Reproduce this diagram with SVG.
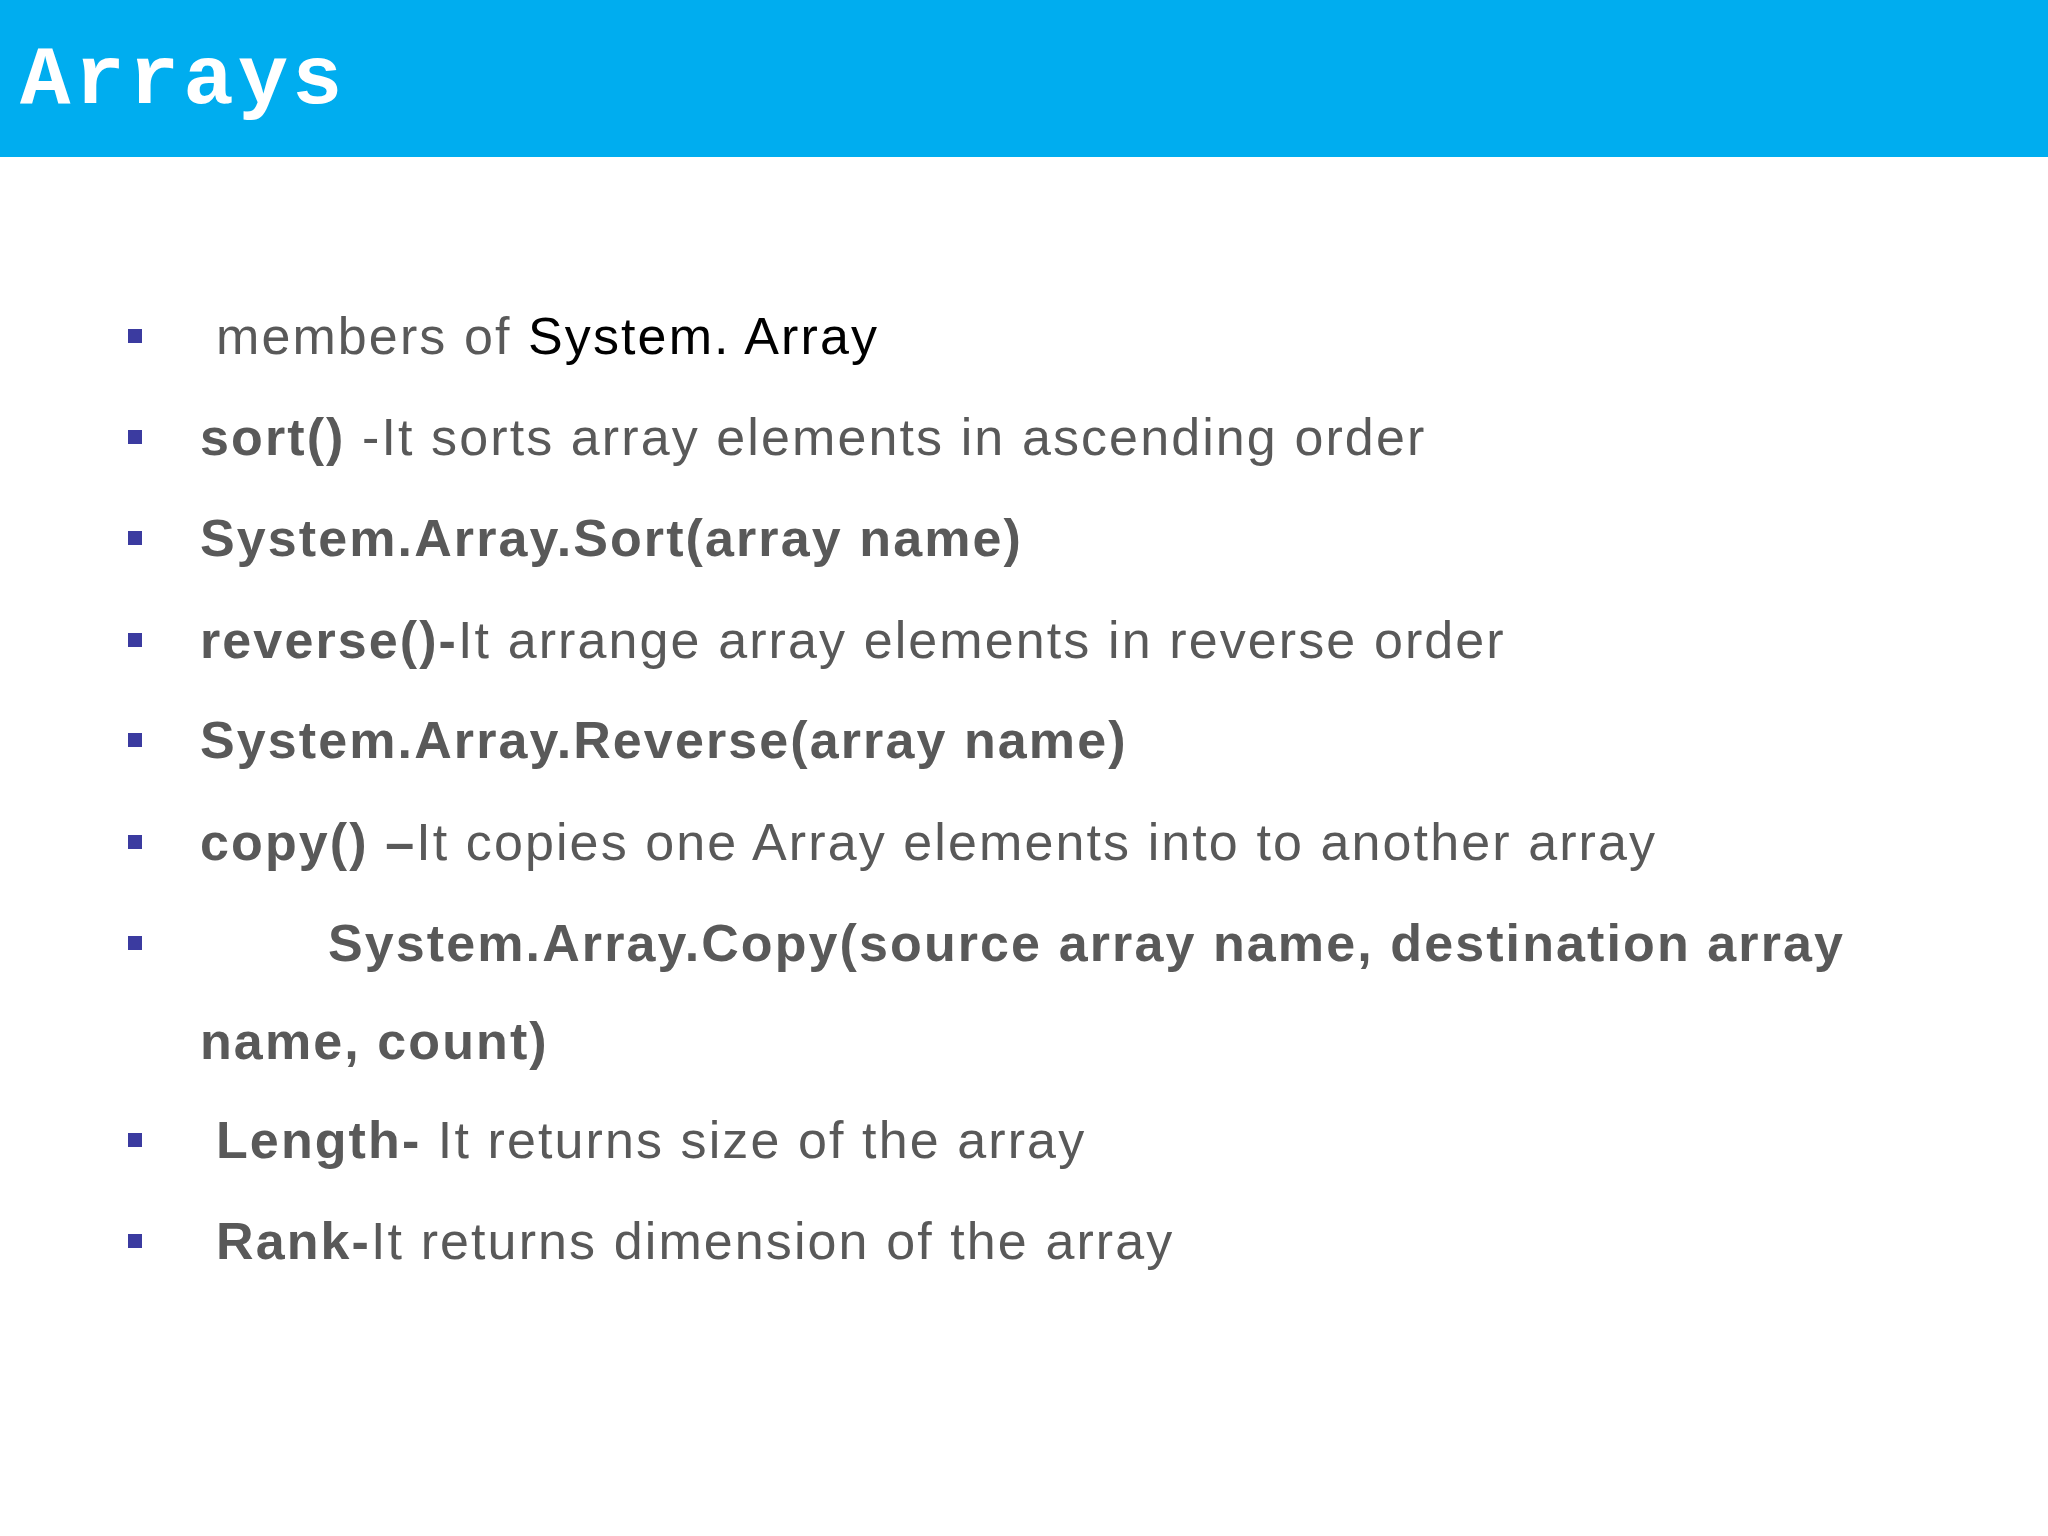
<svg xmlns="http://www.w3.org/2000/svg" width="2048" height="1536" viewBox="0 0 2048 1536">
<style>
.t{font-family:"Liberation Sans",Arial,sans-serif;font-size:52px;letter-spacing:2.1px;fill:#595959}
.b{font-weight:bold}
.k{fill:#000}
.bl{fill:#3b3ba0}
</style>
<rect width="2048" height="1536" fill="#fff"/>
<g id="header"><rect width="2048" height="157" fill="#00adef"/>
<text x="20" y="103" font-family="'Liberation Mono','Courier New',monospace" font-weight="bold" font-size="84" letter-spacing="4" fill="#fff">Arrays</text></g>
<g id="bullets" class="bl">
<rect x="128" y="329" width="14" height="14"/><rect x="128" y="430" width="14" height="14"/>
<rect x="128" y="531" width="14" height="14"/><rect x="128" y="633" width="14" height="14"/>
<rect x="128" y="733" width="14" height="14"/><rect x="128" y="835" width="14" height="14"/>
<rect x="128" y="936" width="14" height="14"/><rect x="128" y="1133" width="14" height="14"/>
<rect x="128" y="1234" width="14" height="14"/></g>
<g id="text">
<text class="t" x="216" y="354">members of <tspan class="k">System. Array</tspan></text>
<text class="t" x="200" y="455"><tspan class="b">sort()</tspan> -It sorts array elements in ascending order</text>
<text class="t b" x="200" y="556">System.Array.Sort(array name)</text>
<text class="t" x="200" y="658"><tspan class="b">reverse()-</tspan>It arrange array elements in reverse order</text>
<text class="t b" x="200" y="758">System.Array.Reverse(array name)</text>
<text class="t" x="200" y="860"><tspan class="b">copy() –</tspan>It copies one Array elements into to another array</text>
<text class="t b" x="328" y="961">System.Array.Copy(source array name, destination array</text>
<text class="t b" x="200" y="1059">name, count)</text>
<text class="t" x="216" y="1158"><tspan class="b">Length-</tspan> It returns size of the array</text>
<text class="t" x="216" y="1259"><tspan class="b">Rank-</tspan>It returns dimension of the array</text>
</g>
</svg>
